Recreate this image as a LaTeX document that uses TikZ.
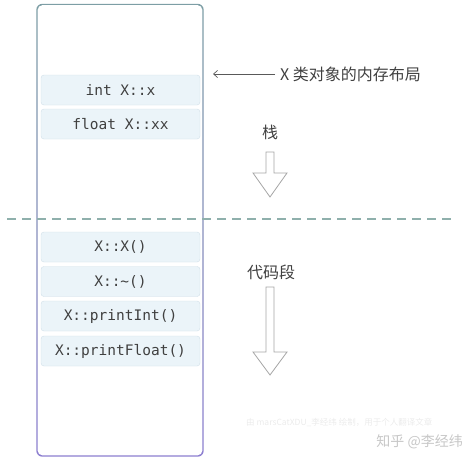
\documentclass[tikz,border=0pt]{standalone}
\usepackage{fontspec}
\setmainfont{Noto Sans CJK SC}
\setmonofont{DejaVu Sans Mono}
\usetikzlibrary{arrows.meta, positioning}

\definecolor{frametop}{HTML}{7D9EA5}
\definecolor{framebot}{HTML}{8C7ED0}
\definecolor{cellfill}{HTML}{EBF4F9}
\definecolor{celledge}{HTML}{D2E0E9}
\definecolor{dashcol}{HTML}{8FB0AC}
\definecolor{hollow}{HTML}{A6A6A6}

\begin{document}
\begin{tikzpicture}[
    x=1pt, y=-1pt,
    every node/.style={font=\fontsize{16}{18}\selectfont, text=black!75},
    cell/.style={draw=celledge, fill=cellfill, rounded corners=3pt, minimum width=159pt, minimum height=30pt, inner sep=0pt, font=\ttfamily\fontsize{14.5}{16}\selectfont},
    hollowarrow/.style={draw=hollow, line width=0.8pt, fill=white, line join=miter},
    >={Straight Barb[length=4pt, width=7pt]}
]
\useasboundingbox (0,0) rectangle (474,463);

% Frame
\shade[top color=frametop, bottom color=framebot, rounded corners=6pt] (36.3,3.8) rectangle (203.7,456.7);
\fill[white, rounded corners=5pt] (37.6,5.1) rectangle (202.4,455.4);

% Nodes
\node[cell] (ix) at (120.5,90) {int X::x};
\node[cell] (fx) at (120.5,124) {float X::xx};
\node[cell] (ctor) at (120.5,247) {X::X()};
\node[cell] (dtor) at (120.5,281.5) {X::\char`\~()};
\node[cell] (pi) at (120.5,316) {X::printInt()};
\node[cell] (pf) at (120.5,351) {X::printFloat()};

\node[anchor=west, inner sep=0pt] (layout) at (280,74) {X 类对象的内存布局};
\coordinate (tip) at (213,74);
\node[inner sep=0pt] (stack) at (270,132) {栈};
\node[inner sep=0pt] (code) at (271,272) {代码段};

% Arrows
\draw[->, black!65, line width=0.7pt] ([xshift=-5pt]layout.west) -- (tip);
\draw[hollowarrow] (266,152) -- (274,152) -- (274,173) -- (287,173) -- (270,197) -- (253,173) -- (266,173) -- cycle;
\draw[hollowarrow] (266,287) -- (274,287) -- (274,352) -- (287,352) -- (270,375) -- (253,352) -- (266,352) -- cycle;

% Divider
\draw[dashcol, line width=1.2pt, dash pattern=on 9pt off 6pt] (7,219) -- (452,219);

% Watermark
\node[anchor=west, inner sep=0pt, text=black!8, font=\fontsize{8.5}{10}\selectfont] (wm) at (246,422) {由 marsCatXDU\_李经纬 绘制，用于个人翻译文章};
\node[anchor=east, inner sep=0pt, text=black!22, font=\fontsize{14}{16}\selectfont] (zh) at (463,442) {知乎 @李经纬};

\end{tikzpicture}
\end{document}
